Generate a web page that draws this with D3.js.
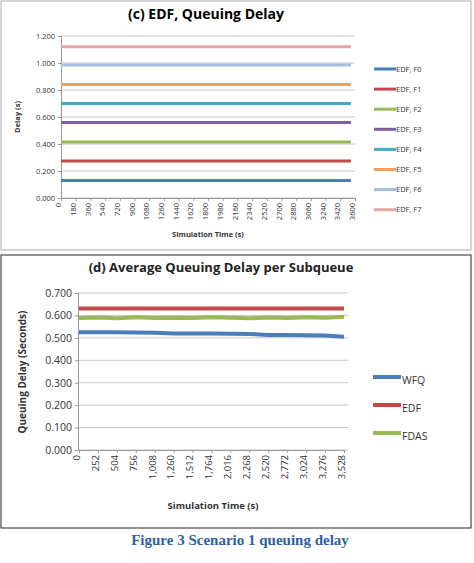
<!DOCTYPE html><html><head><meta charset="utf-8"><script src="https://d3js.org/d3.v7.min.js"></script>
<style>body{margin:0;background:#fff}text{font-family:"Open Sans",Lato,sans-serif}text.cap{font-family:"Liberation Serif","DejaVu Serif",serif}</style></head><body><svg id="c" width="474" height="563"></svg>
<script>
const topTimes = d3.range(0, 3601, 180);
const topSeries = ["EDF, F0","EDF, F1","EDF, F2","EDF, F3","EDF, F4","EDF, F5","EDF, F6","EDF, F7"];
const topValues = [0.130,0.275,0.415,0.560,0.700,0.840,0.985,1.120];
const topColors = ["#4a7ebb","#be4b48","#98b954","#7d60a0","#46aac5","#f59d56","#a5bde0","#e6a5a4"];
const topYTicks = [0,0.2,0.4,0.6,0.8,1.0,1.2];

const botTimes = [0,252,504,756,1008,1260,1512,1764,2016,2268,2520,2772,3024,3276,3528];
const botSeries = ["WFQ","EDF","FDAS"];
const wfq  = [0.525,0.525,0.525,0.524,0.523,0.519,0.519,0.519,0.518,0.517,0.513,0.513,0.512,0.511,0.505];
const edf  = [0.631,0.631,0.631,0.631,0.631,0.631,0.631,0.631,0.631,0.631,0.631,0.631,0.631,0.631,0.631];
const fdas = [0.588,0.591,0.587,0.592,0.589,0.590,0.588,0.592,0.590,0.587,0.591,0.589,0.592,0.590,0.594];
const botColors = ["#4a7ebb","#be4b48","#98b954"];
const botYTicks = [0,0.1,0.2,0.3,0.4,0.5,0.6,0.7];

const svg = d3.select("#c");
svg.append("rect").attr("x",1).attr("y",1).attr("width",470).attr("height",249).attr("fill","none").attr("stroke","#aaa");
svg.append("rect").attr("x",1).attr("y",255).attr("width",470).attr("height",273).attr("fill","none").attr("stroke","#222");

// TOP
{
const x = d3.scaleLinear().domain([0,3600]).range([61,355]);
const y = d3.scaleLinear().domain([0,1.2]).range([198,36]);
const g = svg.append("g");
g.append("text").attr("x",206).attr("y",19).attr("text-anchor","middle").attr("font-size",14).attr("font-weight","bold").text("(c) EDF, Queuing Delay");
g.selectAll(".gl").data(topYTicks).join("line").attr("x1",61).attr("x2",355).attr("y1",d=>y(d)).attr("y2",d=>y(d)).attr("stroke","#c8c8c8");
const ya = g.append("g").attr("transform","translate(61,0)").call(d3.axisLeft(y).tickValues(topYTicks).tickFormat(d3.format(".3f")).tickSize(3));
ya.selectAll("text").attr("font-size",7.5).attr("fill","#333");
ya.selectAll("path,line").attr("stroke","#999");
const xa = g.append("g").attr("transform","translate(0,198)").call(d3.axisBottom(x).tickValues(topTimes).tickFormat(d3.format("d")).tickSize(3));
xa.selectAll("path,line").attr("stroke","#999");
xa.selectAll("text").attr("font-size",7.5).attr("fill","#333").attr("transform","rotate(-90)").attr("text-anchor","end").attr("x",-5).attr("y",-3).attr("dy","0.35em");
g.append("text").attr("x",208).attr("y",237).attr("text-anchor","middle").attr("font-size",7.5).attr("font-weight","bold").attr("fill","#333").text("Simulation Time (s)");
g.append("text").attr("transform","translate(20,117) rotate(-90)").attr("text-anchor","middle").attr("font-size",7.5).attr("font-weight","bold").attr("fill","#333").text("Delay (s)");
topSeries.forEach((s,i)=>{
  const line = d3.line().x(d=>x(d)).y(()=>y(topValues[i]));
  g.append("path").attr("d",line(topTimes.slice(0,-1).concat([3550]))).attr("stroke",topColors[i]).attr("stroke-width",3).attr("fill","none");
  const ly = 69 + i*20.1;
  g.append("line").attr("x1",374).attr("x2",396).attr("y1",ly).attr("y2",ly).attr("stroke",topColors[i]).attr("stroke-width",3);
  g.append("text").attr("x",396).attr("y",ly).attr("dy","0.35em").attr("font-size",7.5).attr("fill","#333").text(s);
});
}
// BOTTOM
{
const x = d3.scalePoint().domain(botTimes).range([79,344]);
const y = d3.scaleLinear().domain([0,0.7]).range([450,293]);
const g = svg.append("g");
g.append("text").attr("x",221).attr("y",272).attr("text-anchor","middle").attr("font-size",13).attr("font-weight","bold").attr("fill","#222").text("(d) Average Queuing Delay per Subqueue");
g.selectAll(".gl").data(botYTicks).join("line").attr("x1",78).attr("x2",348).attr("y1",d=>y(d)).attr("y2",d=>y(d)).attr("stroke","#c8c8c8");
const ya = g.append("g").attr("transform","translate(78,0)").call(d3.axisLeft(y).tickValues(botYTicks).tickFormat(d3.format(".3f")).tickSize(3));
ya.selectAll("text").attr("font-size",10.5).attr("fill","#333");
ya.selectAll("path,line").attr("stroke","#999");
const xa = g.append("g").attr("transform","translate(0,450)").call(d3.axisBottom(x).tickFormat(d3.format(",")).tickSize(3));
xa.selectAll("path,line").attr("stroke","#999");
xa.selectAll("text").attr("font-size",9.5).attr("fill","#333").attr("transform","rotate(-90)").attr("text-anchor","end").attr("x",-5).attr("y",-3).attr("dy","0.35em");
g.append("text").attr("x",213).attr("y",509).attr("text-anchor","middle").attr("font-size",9.5).attr("font-weight","bold").attr("fill","#333").text("Simulation Time (s)");
g.append("text").attr("transform","translate(26,372) rotate(-90)").attr("text-anchor","middle").attr("font-size",10).attr("font-weight","bold").attr("fill","#333").text("Queuing Delay (Seconds)");
[wfq,edf,fdas].forEach((vals,i)=>{
  const line = d3.line().x((d,j)=>x(botTimes[j])).y(d=>y(d));
  g.append("path").attr("d",line(vals)).attr("stroke",botColors[i]).attr("stroke-width",4).attr("fill","none");
  const ly = 377 + i*28;
  g.append("line").attr("x1",373).attr("x2",401).attr("y1",ly).attr("y2",ly).attr("stroke",botColors[i]).attr("stroke-width",4);
  g.append("text").attr("x",402).attr("y",ly+3).attr("dy","0.35em").attr("font-size",10.5).attr("fill","#333").text(botSeries[i]);
});
}
svg.append("text").attr("class","cap").attr("x",240).attr("y",545).attr("text-anchor","middle").attr("font-size",15).attr("font-weight","bold").attr("fill","#2f5f9e").text("Figure 3 Scenario 1 queuing delay");
</script></body></html>
